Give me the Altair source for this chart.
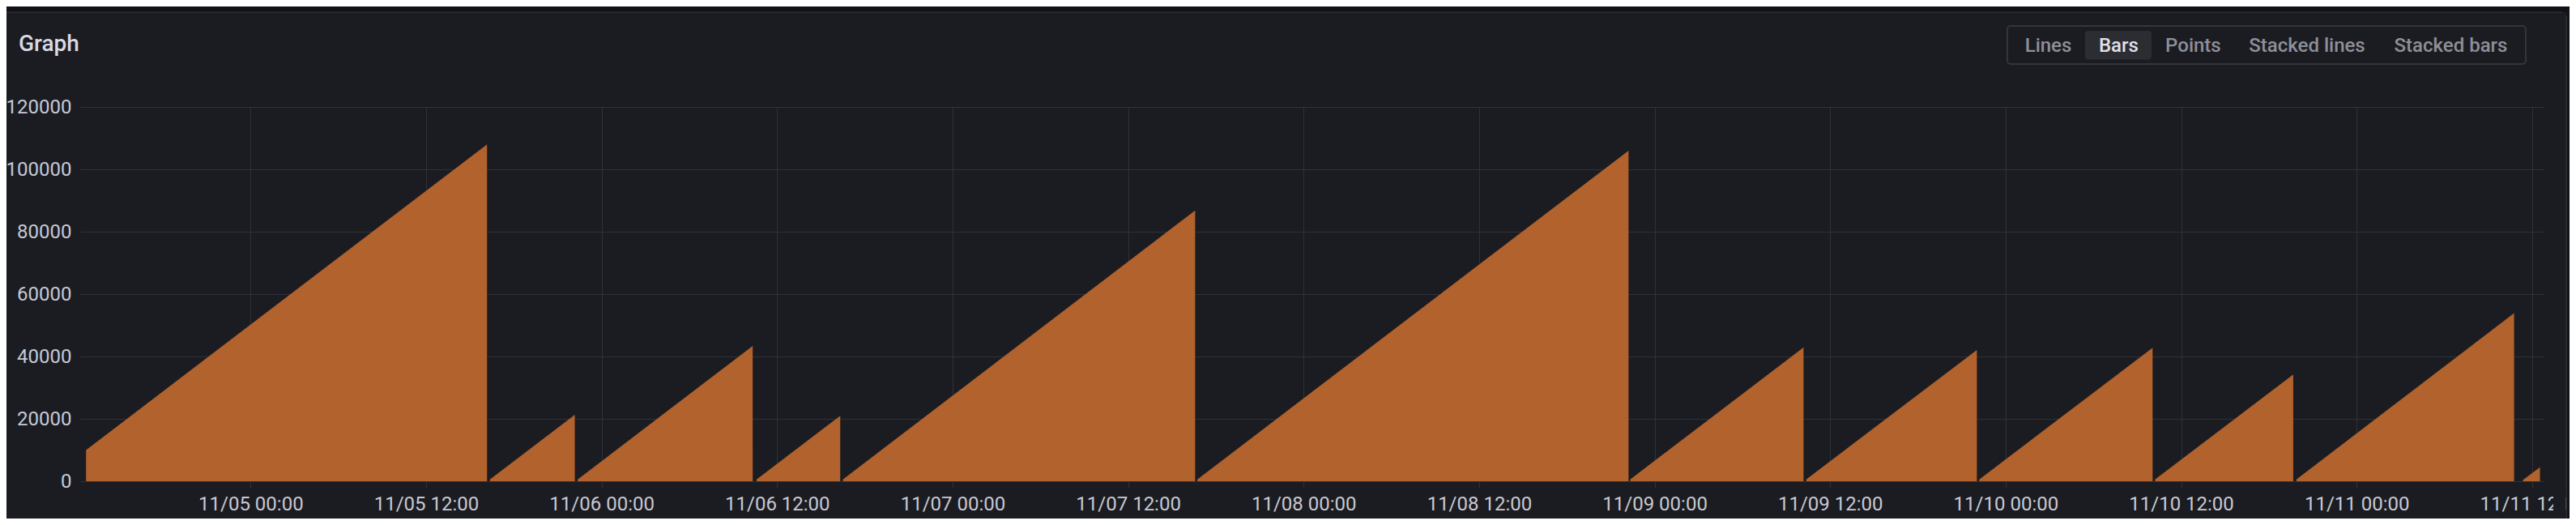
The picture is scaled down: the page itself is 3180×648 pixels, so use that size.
import altair as alt
import pandas as pd

# ---------------- data ----------------
YEAR = "2020"
seg_start_time = ["11/04 12:45", "11/05 16:22", "11/05 22:22", "11/06 10:36", "11/06 16:30",
                  "11/07 16:44", "11/08 22:20", "11/09 10:22", "11/09 22:12", "11/10 10:13",
                  "11/10 19:53", "11/11 11:22"]
seg_start_value = [10000, 600, 600, 600, 600, 600, 600, 600, 600, 600, 600, 400]
seg_end_time = ["11/05 16:10", "11/05 22:10", "11/06 10:20", "11/06 16:19", "11/07 16:35",
                "11/08 22:13", "11/09 10:11", "11/09 22:02", "11/10 10:03", "11/10 19:40",
                "11/11 10:46", "11/11 12:32"]
seg_peak_value = [108000, 21300, 43400, 21000, 86800, 106000, 42900, 42100, 42800, 34200, 53900, 4500]

y_ticks = [0, 20000, 40000, 60000, 80000, 100000, 120000]
x_tick_labels = ["11/05 00:00", "11/05 12:00", "11/06 00:00", "11/06 12:00", "11/07 00:00",
                 "11/07 12:00", "11/08 00:00", "11/08 12:00", "11/09 00:00", "11/09 12:00",
                 "11/10 00:00", "11/10 12:00", "11/11 00:00", "11/11 12:00"]
time_range = ["11/04 12:21", "11/11 12:47"]
panel_title = "Graph"
modes = ["Lines", "Bars", "Points", "Stacked lines", "Stacked bars"]
active_mode = "Bars"

# ---------------- styles / layout ----------------
FONT = "Roboto"
BAR = "#b1622d"
PANEL = "#1b1c21"
CANVAS = "#111217"
BORDER = "#2e2f35"
GRID = "#303137"
LABEL = "#c8c9d3"
PAD = {"left": 91, "top": 124, "right": 32, "bottom": 46}
W, H = 3041, 462
mode_x = [2429.5, 2516.4, 2608.4, 2749, 2926.5]


def iso(s):
    md, hm = s.split(" ")
    m, d = md.split("/")
    return f"{YEAR}-{m}-{d}T{hm}:00Z"


def ms(s):
    return int(pd.Timestamp(iso(s)).value // 10**6)


rows = []
for i, (st, sv, et, ev) in enumerate(zip(seg_start_time, seg_start_value, seg_end_time, seg_peak_value)):
    rows.append({"seg": i, "time": iso(st), "value": sv})
    rows.append({"seg": i, "time": iso(et), "value": ev})
df = pd.DataFrame(rows)

x_enc = alt.X(
    "time:T",
    title=None,
    scale=alt.Scale(type="utc", domain=[ms(time_range[0]), ms(time_range[1])]),
    axis=alt.Axis(
        values=[ms(t) for t in x_tick_labels],
        labelExpr="utcFormat(datum.value, '%m/%d %H:%M')",
        labelFont=FONT, labelFontSize=24, labelColor=LABEL,
        labelPadding=8, labelOverlap=False, labelFlush=False,
        ticks=True, tickSize=8, tickColor=GRID, tickWidth=1,
        grid=True, gridColor=GRID, gridWidth=1,
        domain=False,
    ),
)
y_enc = alt.Y(
    "value:Q",
    title=None,
    stack=None,
    scale=alt.Scale(domain=[0, 120000], nice=False),
    axis=alt.Axis(
        values=y_ticks, format="d",
        labelFont=FONT, labelFontSize=24, labelColor=LABEL,
        labelPadding=11, ticks=False,
        grid=True, gridColor=GRID, gridWidth=1,
        domain=False,
    ),
)

area = alt.Chart(df).mark_area(color=BAR, interpolate="linear", opacity=1).encode(
    x=x_enc, y=y_enc, detail="seg:N"
)

one = alt.Data(values=[{}])


def rect(x, x2, y, y2, **kw):
    return alt.Chart(one).mark_rect(**kw).encode(
        x=alt.value(x), x2=alt.value(x2), y=alt.value(y), y2=alt.value(y2)
    )


layers = [area]
# dark canvas outside the panel (top and right) + panel border
layers.append(rect(-91, 3073, -124, -117, color=CANVAS))
layers.append(rect(3070, 3073, -124, 520, color=CANVAS))
layers.append(rect(-91, 3064, -117.5, -116, color=BORDER))
layers.append(rect(3068.5, 3070, -112, 520, color=BORDER))
# hide overflowing part of the last time label (clipped inside panel like the reference)
layers.append(rect(3053, 3068.5, 474, 520, color=PANEL))

# title
layers.append(
    alt.Chart(one).mark_text(
        text=panel_title, align="left", baseline="alphabetic",
        font=FONT, fontSize=28, fontWeight=500, color="#d8d9e3",
    ).encode(x=alt.value(-76), y=alt.value(-69.5))
)

# mode switcher
layers.append(rect(2379, 3019, -100, -53, fill=PANEL, stroke="#34353b", strokeWidth=2, cornerRadius=4))
ai = modes.index(active_mode)
layers.append(rect(2475, 2557, -94, -58.5, color="#2c2d33", cornerRadius=4))
for i, m in enumerate(modes):
    layers.append(
        alt.Chart(one).mark_text(
            text=m, align="center", baseline="alphabetic",
            font=FONT, fontSize=24, fontWeight=500,
            color="#e0e0ea" if i == ai else "#8e8f99",
        ).encode(x=alt.value(mode_x[i]), y=alt.value(-68))
    )

chart = alt.layer(*layers).properties(
    width=W, height=H, padding=PAD,
    autosize=alt.AutoSizeParams(type="none"),
).configure(background=PANEL).configure_view(stroke=None)

chart.save("out.html", embed_options={"renderer": "svg", "actions": False})
